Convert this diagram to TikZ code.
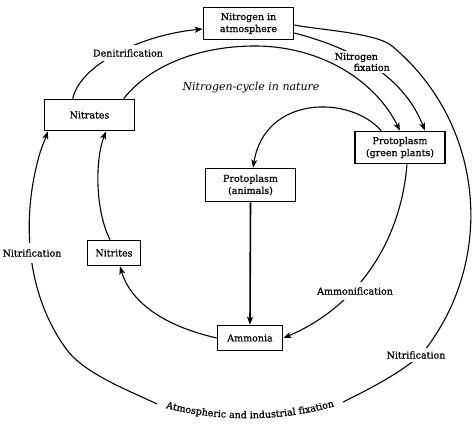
\documentclass[tikz,border=0pt]{standalone}
\usepackage{fontspec}
\setmainfont{DejaVu Serif}[FakeBold=0.8]
\newfontfamily\titlefont{DejaVu Serif}[UprightFont=* Italic]
\usetikzlibrary{arrows.meta,calc,decorations.text}
\begin{document}
\begin{tikzpicture}[x=1pt,y=-1pt,
  box/.style={draw,line width=1.6pt,inner sep=0pt,align=center,font=\fontsize{9.5}{12}\selectfont},
  lbl/.style={fill=white,inner sep=1.5pt,font=\fontsize{9.5}{11}\selectfont,align=center},
  conn/.style={line width=1.1pt,-{Stealth[length=8pt,width=6pt,inset=2pt]}},
  plainline/.style={line width=1.1pt}]
\useasboundingbox (0,0) rectangle (474,425);
% boxes
\node[box,minimum width=90pt,minimum height=32pt] (atm) at (248.5,23.5) {Nitrogen in\\atmosphere};
\node[box,minimum width=90pt,minimum height=31pt] (nitrates) at (89.5,115) {Nitrates};
\node[box,minimum width=90pt,minimum height=32pt] (green) at (400,147.5) {Protoplasm\\(green plants)};
\node[box,minimum width=90pt,minimum height=33pt] (animals) at (250.5,185) {Protoplasm\\(animals)};
\node[box,minimum width=53pt,minimum height=25pt] (nitrites) at (114,253) {Nitrites};
\node[box,minimum width=65pt,minimum height=25pt] (ammonia) at (250,338) {Ammonia};
% helper coordinates
\coordinate (o1) at ($(atm.east)+(0,1.5)$);
\coordinate (o2) at ($(nitrates.south west)+(4,0)$);
% connectors under labels
\draw[conn] ($(nitrates.north west)+(29,0)$) .. controls (80,65) and (140,35) .. ($(atm.west)+(0,5.5)$);
\draw[conn] ($(atm.east)+(0,9.5)$) .. controls (360,50) and (405,80) .. ($(green.north)+(25,0)$);
\draw[plainline] (o1) .. controls (320,30) and (377,33) .. (392,46)
  .. controls (482,121) and (497,254) .. (426.5,348)
  .. controls (411.5,368) and (365.5,391) .. (343,402);
\draw[conn] (157,404) .. controls (130,391) and (85,374) .. (67,350)
  .. controls (27,296) and (21,223) .. (38.5,158)
  .. controls (41,148) and (45,140) .. (o2);
\draw[conn] (ammonia.west) .. controls (160,325) and (130,300) .. ($(nitrites.south)+(6,0)$);
\draw[conn] ($(nitrites.north)+(-4,0)$) .. controls (95,210) and (95,160) .. ($(nitrates.south)+(16.5,0)$);
\draw[conn] ($(green.north west)+(27,0)$) .. controls (350,95) and (265,95) .. ($(animals.north)+(2.5,0)$);
\draw[conn,line width=1.6pt] (animals.south) -- (ammonia.north);
\draw[conn] ($(green.south)+(7,0)$) .. controls (400,250) and (350,310) .. (ammonia.east);
% labels
\node[lbl,inner sep=4pt] (denit) at (128,53) {Denitrification};
\node[lbl,align=left,anchor=west] (nfix) at (333,62) {Nitrogen\\\hspace*{19pt}fixation};
\node[font=\titlefont\fontsize{11}{13}\selectfont] (title) at (251,88) {Nitrogen-cycle in nature};
\node[lbl,inner ysep=6pt] (nitl) at (32,253) {Nitrification};
\node[lbl,inner ysep=5pt] (ammf) at (355,291) {Ammonification};
\node[lbl,inner ysep=3pt] (nitr) at (416,355) {Nitrification};
% big arc drawn above labels
\draw[conn] ($(nitrates.north west)+(80,0)$) .. controls (150,65) and (200,46) .. (255,46)
  .. controls (320,46) and (375,80) .. (green.north);
% curved bottom text
\path[decorate,decoration={text along path,text align=center,
  text={|\fontsize{9.5}{11}\selectfont|Atmospheric and industrial fixation}}]
  (155,405) .. controls (215,423) and (285,423) .. (345,403);
\end{tikzpicture}
\end{document}
